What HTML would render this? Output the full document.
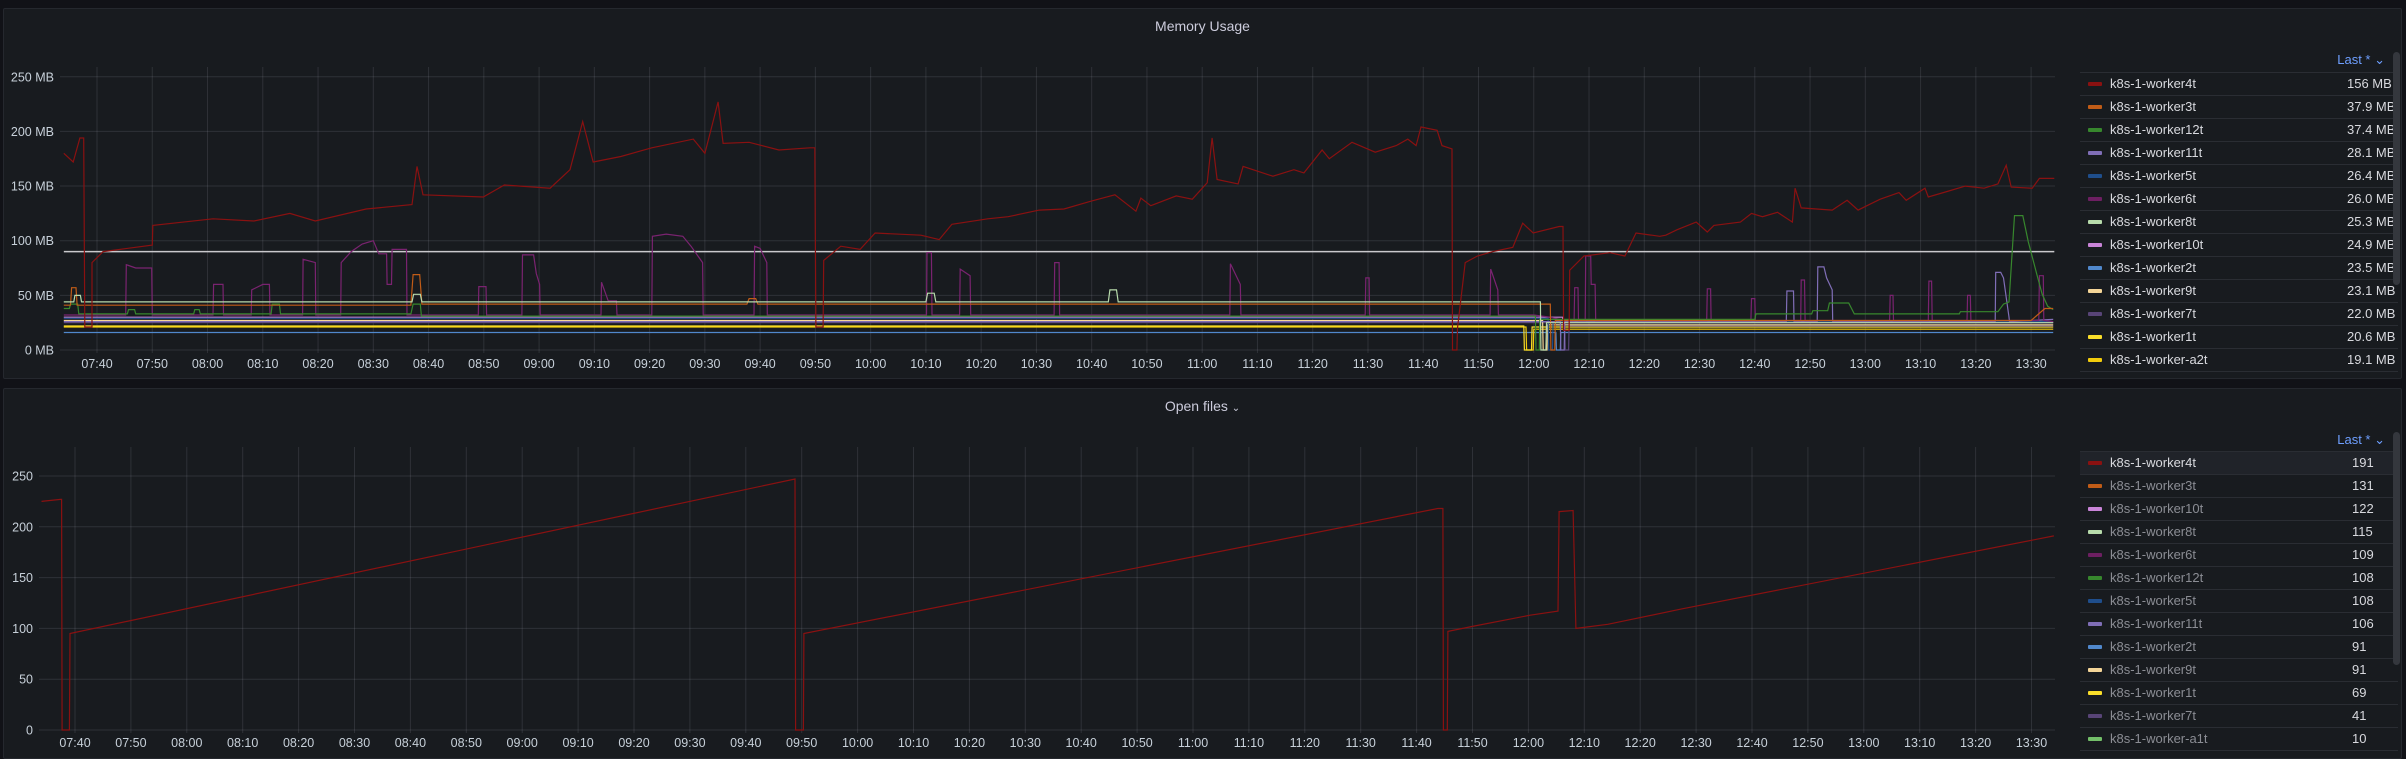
<!DOCTYPE html>
<html><head><meta charset="utf-8">
<style>
html,body{margin:0;padding:0;background:#111217;width:2406px;height:759px;overflow:hidden;font-family:"Liberation Sans",sans-serif;}
.panel{position:absolute;background:#181b1f;border:1px solid #25282e;border-radius:2px;box-sizing:border-box;}
.title{position:absolute;left:0;width:100%;text-align:center;color:#ccccdc;font-size:14px;}
#plots{position:absolute;left:0;top:0;}
.lg{position:absolute;left:2080px;width:318px;}
.lgh{position:absolute;color:#6e9fff;font-size:13px;text-align:right;width:120px;}
.row{position:absolute;left:0;width:318px;height:23px;border-top:1px solid #2a2d33;box-sizing:border-box;font-size:13px;}
.sw{position:absolute;left:8px;top:9px;width:14px;height:4px;border-radius:1px;}
.nm{position:absolute;left:30px;top:3px;color:#d8d9de;}
.vl{position:absolute;top:3px;color:#d8d9de;}
.sb{position:absolute;left:2393px;width:7px;background:#34373d;border-radius:4px;}
</style></head>
<body>
<div class="panel" style="left:3px;top:8px;width:2399px;height:371px;">
  <div class="title" style="top:9px;">Memory Usage</div>
</div>
<div class="panel" style="left:3px;top:388px;width:2399px;height:371px;">
  <div class="title" style="top:9px;">Open files <span style="font-size:10px">&#8964;</span></div>
</div>
<svg id="plots" width="2406" height="759"></svg>
<div id="lg1" class="lg" style="top:50px;height:300px;"></div>
<div id="lg2" class="lg" style="top:430px;height:320px;"></div>
<div class="sb" style="top:52px;height:233px;"></div>
<div class="sb" style="top:432px;height:233px;"></div>
<script>
const tickLabels=["07:40","07:50","08:00","08:10","08:20","08:30","08:40","08:50","09:00","09:10","09:20","09:30","09:40","09:50","10:00","10:10","10:20","10:30","10:40","10:50","11:00","11:10","11:20","11:30","11:40","11:50","12:00","12:10","12:20","12:30","12:40","12:50","13:00","13:10","13:20","13:30"];
const memTicks=[0,50,100,150,200,250];
const fileTicks=[0,50,100,150,200,250];
const memThreshold=90;
// minutes since 07:00
const w4T=[34.0,35.7,36.9,37.6,37.8,39.1,39.1,41.1,50.0,50.1,61.0,68.4,74.9,79.5,88.7,97.0,97.9,99.0,109.9,113.7,122.0,125.6,127.9,129.8,134.8,140.4,147.9,150.0,152.4,153.3,158.0,163.4,169.0,169.9,170.1,171.4,171.5,174.6,178.1,180.8,189.1,192.4,194.7,201.2,204.9,210.5,215.0,219.7,224.2,228.0,228.9,230.7,235.3,238.2,240.9,241.8,242.7,246.5,247.4,252.8,256.6,258.4,261.7,263.0,267.1,271.3,275.1,277.2,278.7,279.6,282.5,283.4,285.2,285.3,286.1,286.2,287.6,289.8,292.6,296.2,298.0,299.9,304.6,305.3,305.4,306.4,306.5,309.1,313.8,316.5,318.5,322.8,323.9,325.9,329.4,331.4,332.6,337.4,339.4,341.4,344.1,346.8,347.3,348.4,354.0,356.7,358.7,360.7,362.7,366.1,367.4,370.8,371.4,374.8,378.1,381.5,384.0,385.5,386.4,390.2,391.5,394.2];
const w4V=[180,172,194,194,21,21,80,90,96,114,120,118,125,118,129,133,168,142,140,151,148,165,209,172,177,185,193,180,227,189,190,183,185,185,21,21,82,95,92,107,105,101,115,120,122,128,129,136,142,127,139,132,141,138,153,194,156,152,168,159,165,162,183,175,190,181,187,193,187,204,201,187,184,0,0,20,80,86,90,94,116,107,113,113,18,18,73,86,89,86,107,104,105,110,117,108,114,117,125,122,126,117,148,130,128,137,128,133,138,144,137,148,140,145,150,148,152,169,149,148,157,157];
const w3T=[34,35.2,35.4,36.2,36.4,96.8,97.2,98.4,98.8,157.6,158,159.2,159.6,303,303.1,303.8,303.9,390,392.5,394];
const w3V=[41,41,57,57,41,41,69,69,42,42,47,47,42,42,0,0,27,27,38,38];
const w12T=[34,35,35.2,36.5,36.7,45.5,45.7,46.8,47,57.5,57.7,58.5,58.7,71.5,71.7,73,73.2,96.8,97.2,98.5,98.7,300.3,300.4,301,301.1,340,340.2,350.3,350.5,353.2,353.5,357,358,377,377.2,384,385,386,387,388.5,389.5,391,392,393,394];
const w12V=[38,38,42,42,33,33,37,37,33,33,37,37,33,33,42,42,33,33,42,42,31,31,0,0,28,28,33,33,36,36,43,43,33,33,35,35,42,44,123,123,99,70,51,40,37];
const w11T=[34,304.8,304.9,305.5,305.6,345.7,345.8,347,347.1,351.3,351.4,352.5,353,354,354.1,383.5,383.6,384.5,385,386,386.1,394];
const w11V=[26,26,0,0,26,26,54,54,26,26,76,76,66,55,26,26,71,71,66,30,26,28];
const w5T=[34,302.6,302.7,303.4,303.5,394];
const w5V=[29,29,0,0,26,26];
const w6T=[34,45.2,45.3,47,49.9,50,61,61.1,62.8,62.9,67.9,68,70,71.2,71.3,77.2,77.3,79.5,79.6,84.1,84.2,86,88,90,91,92.4,92.5,93.3,93.4,96,96.1,109,109.1,110.4,110.5,116.9,117,119,119.5,120.1,120.2,131.2,131.3,132.5,134,134.1,140.4,140.5,143,146,147.5,149.6,149.7,158.9,159,160,161.2,161.3,190.1,190.2,191,191.1,196.1,196.2,198,198.1,213.2,213.3,214.1,214.2,245,245.1,246.9,247,269.5,269.6,270.2,270.3,292.1,292.2,293.5,293.6,300,303,305.5,307.3,307.4,308,308.1,309.3,309.4,310.3,310.4,311.1,311.2,331.3,331.4,332,332.1,339.3,339.4,340,340.1,348.3,348.4,349,349.1,364.4,364.5,365,365.1,371.4,371.5,372,372.1,378.4,378.5,379,379.1,391.4,391.5,392.2,392.3,394];
const w6V=[32,32,78,75,75,32,32,60,60,32,32,55,60,60,32,32,83,80,32,32,80,90,97,100,88,88,60,60,92,92,32,32,58,58,32,32,87,87,70,60,32,32,62,45,45,32,32,104,106,104,95,80,32,32,95,93,80,32,32,89,89,32,32,74,68,32,32,80,80,32,32,79,60,32,32,66,66,32,32,74,55,32,32,30,27,27,57,57,27,27,86,86,60,60,27,27,56,56,27,27,47,47,27,27,64,64,27,27,50,50,27,27,63,63,27,27,50,50,27,27,68,68,27,26];
const w8T=[34,35.8,36,37,37.2,97,97.3,98.5,98.8,190,190.3,191.5,191.8,223,223.3,224.5,224.8,301.2,301.3,302.2,302.3,394];
const w8V=[44,44,50,50,44,44,51,51,44,44,52,52,44,44,55,55,44,44,0,0,25,25];
const w10T=[34,305.2,305.3,394];
const w10V=[30,30,25,25];
const w2T=[34,304.0,304.1,304.8,304.9,394];
const w2V=[16,16,0,0,16,16];
const w9T=[34,301.6,301.7,302.4,302.5,394];
const w9V=[27,27,0,0,23,23];
const w7T=[34,305.6,305.7,306.3,306.4,394];
const w7V=[25,25,0,0,22,22];
const w1T=[34,298.2,298.3,299.6,299.7,394];
const w1V=[22,22,0,0,21,21];
const a2T=[34,298.6,298.7,299.9,300,394];
const a2V=[21,21,0,0,19,19];
const filesT=[34,37.4,37.6,37.7,39.0,39.1,168.8,168.9,170.3,170.4,283.8,284.7,284.8,285.5,285.6,290,300.3,305.3,305.5,308,308.5,314.2,327.3,394];
const filesV=[225,227,227,0,0,95,247,0,0,95,218,218,0,0,97,102,113,117,215,216,100,104,119,191];
const memNames=["k8s-1-worker4t","k8s-1-worker3t","k8s-1-worker12t","k8s-1-worker11t","k8s-1-worker5t","k8s-1-worker6t","k8s-1-worker8t","k8s-1-worker10t","k8s-1-worker2t","k8s-1-worker9t","k8s-1-worker7t","k8s-1-worker1t","k8s-1-worker-a2t"];
const memColors=["#8a1111","#c15c17","#37872d","#806eb7","#1f4e8c","#6d1f62","#b7dbab","#c984d8","#5088cc","#f4d598","#584477","#fade2a","#f2cc0c"];
const memLast=["156 MB","37.9 MB","37.4 MB","28.1 MB","26.4 MB","26.0 MB","25.3 MB","24.9 MB","23.5 MB","23.1 MB","22.0 MB","20.6 MB","19.1 MB"];
const fileNames=["k8s-1-worker4t","k8s-1-worker3t","k8s-1-worker10t","k8s-1-worker8t","k8s-1-worker6t","k8s-1-worker12t","k8s-1-worker5t","k8s-1-worker11t","k8s-1-worker2t","k8s-1-worker9t","k8s-1-worker1t","k8s-1-worker7t","k8s-1-worker-a1t"];
const fileColors=["#8a1111","#c15c17","#c984d8","#b7dbab","#6d1f62","#37872d","#1f4e8c","#806eb7","#5088cc","#f4d598","#fade2a","#584477","#73bf69"];
const fileLast=["191","131","122","115","109","108","108","106","91","91","69","41","10"];

const NS="http://www.w3.org/2000/svg";
const svg=document.getElementById('plots');
function mk(tag,attrs,parent){const e=document.createElementNS(NS,tag);for(const k in attrs)e.setAttribute(k,attrs[k]);(parent||svg).appendChild(e);return e;}
function toMin(s){const p=s.split(':');return (+p[0]-7)*60+(+p[1]);}
const memX=t=>97+(t-40)*5.526, memY=v=>350-v*1.093;
const filX=t=>75+(t-40)*5.59, filY=v=>730-v*1.016;

function drawAxes(X,Y,ticks,fmt,left,right,top,bottom,labX,labY,pfx){
  ticks.forEach(v=>{
    const l=mk('line',{x1:left,x2:right,y1:Y(v),y2:Y(v),stroke:'rgba(204,204,220,0.13)','stroke-width':1});
    
    
    const t=mk('text',{x:labX,y:Y(v)+4.5,'text-anchor':'end',fill:'#c7d0d9','font-size':12.5,'font-family':'Liberation Sans, sans-serif'});
    t.textContent=fmt(v);
    
    
  });
  tickLabels.forEach(s=>{
    const x=X(toMin(s));
    const l=mk('line',{x1:x,x2:x,y1:top,y2:bottom,stroke:'rgba(204,204,220,0.13)','stroke-width':1});
    
    
    const t=mk('text',{x:x,y:labY,'text-anchor':'middle',fill:'#c7d0d9','font-size':12.5,'font-family':'Liberation Sans, sans-serif'});
    t.textContent=s;
    
    
  });
}
drawAxes(memX,memY,memTicks,v=>v+' MB',60,2055,67,353,54,368,'memory');
drawAxes(filX,filY,fileTicks,v=>String(v),39,2055,447,733,33,747,'files');

function series(X,Y,T,V,color,name,w){
  let d='';
  for(let i=0;i<T.length;i++){d+=(i?'L':'M')+X(T[i]).toFixed(1)+' '+Y(V[i]).toFixed(1);}
  const p=mk('path',{d:d,fill:'none',stroke:color,'stroke-width':w||1.2,'stroke-linejoin':'miter'});
  
  
}
const th=mk('line',{x1:memX(34),x2:memX(394.2),y1:memY(memThreshold),y2:memY(memThreshold),stroke:'#c9c9cc','stroke-width':1.6});


series(memX,memY,w2T,w2V,'#5088cc','line-worker2t');
series(memX,memY,a2T,a2V,'#f2cc0c','line-worker-a2t');
series(memX,memY,w1T,w1V,'#fade2a','line-worker1t');
series(memX,memY,w7T,w7V,'#584477','line-worker7t');
series(memX,memY,w9T,w9V,'#f4d598','line-worker9t');
series(memX,memY,w10T,w10V,'#c984d8','line-worker10t');
series(memX,memY,w5T,w5V,'#1f4e8c','line-worker5t');
series(memX,memY,w11T,w11V,'#806eb7','line-worker11t');
series(memX,memY,w6T,w6V,'#7a2370','line-worker6t');
series(memX,memY,w12T,w12V,'#37872d','line-worker12t');
series(memX,memY,w3T,w3V,'#c15c17','line-worker3t');
series(memX,memY,w8T,w8V,'#b7dbab','line-worker8t');
series(memX,memY,w4T,w4V,'#8a1111','line-worker4t');
series(filX,filY,filesT,filesV,'#8a1111','files-line-worker4t');

function legend(id,names,colors,vals,headTop,rowTop,valX,dimOthers,pfx){
  const box=document.getElementById(id);
  const h=document.createElement('div');
  h.className='lgh';h.style.left='185px';h.style.top=headTop+'px';
  h.textContent='Last * \u2304';
  
  
  box.appendChild(h);
  names.forEach((n,i)=>{
    const r=document.createElement('div');
    r.className='row';r.style.top=(rowTop+i*23)+'px';
    if(dimOthers&&i===0)r.style.background='#202329';
    
    
    const s=document.createElement('div');s.className='sw';s.style.background=colors[i];
    
    
    const nm=document.createElement('div');nm.className='nm';nm.textContent=n;
    if(dimOthers&&i>0)nm.style.color='#8b8d94';
    
    
    const v=document.createElement('div');v.className='vl';v.style.left=valX+'px';v.textContent=vals[i];
    
    
    r.appendChild(s);r.appendChild(nm);r.appendChild(v);box.appendChild(r);
  });
  const last=document.createElement('div');last.className='row';last.style.top=(rowTop+names.length*23)+'px';last.style.height='1px';
  
  
  box.appendChild(last);
}
legend('lg1',memNames,memColors,memLast,2,22,267,false,'memory');
legend('lg2',fileNames,fileColors,fileLast,2,21,272,true,'files');
</script>
</body></html>
